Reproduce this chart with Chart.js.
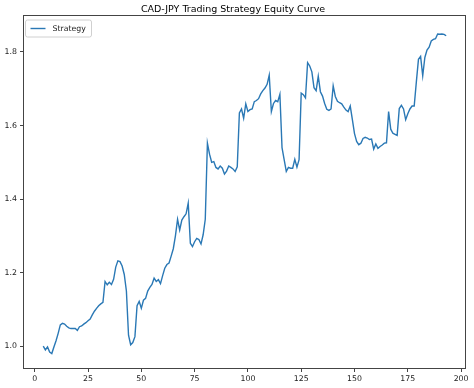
<!DOCTYPE html>
<html><head><meta charset="utf-8">
<script src="https://cdn.jsdelivr.net/npm/chart.js@4"></script>
<style>html,body{margin:0;padding:0;background:#fff;}canvas{display:block;}</style>
</head><body>
<canvas id="c" width="474" height="388"></canvas>
<script>
const titleText = "CAD-JPY Trading Strategy Equity Curve";
const seriesName = "Strategy";
const firstStep = 4;
const equity = [
  1.000, 0.990, 0.998, 0.984, 0.980, 0.998, 1.015, 1.035, 1.058, 1.062,
  1.060, 1.054, 1.050, 1.048, 1.048, 1.048, 1.043, 1.053, 1.055, 1.060,
  1.064, 1.069, 1.074, 1.085, 1.095, 1.103, 1.110, 1.115, 1.119, 1.176,
  1.167, 1.174, 1.168, 1.182, 1.215, 1.232, 1.230, 1.218, 1.195, 1.150,
  1.030, 1.004, 1.010, 1.026, 1.110, 1.122, 1.103, 1.125, 1.130, 1.150,
  1.160, 1.168, 1.185, 1.176, 1.181, 1.170, 1.192, 1.212, 1.222, 1.226,
  1.245, 1.265, 1.300, 1.345, 1.316, 1.343, 1.352, 1.360, 1.389, 1.280,
  1.271, 1.284, 1.293, 1.290, 1.278, 1.303, 1.345, 1.552, 1.522, 1.500,
  1.502, 1.486, 1.482, 1.490, 1.484, 1.468, 1.476, 1.490, 1.486, 1.482,
  1.475, 1.488, 1.634, 1.645, 1.620, 1.659, 1.638, 1.643, 1.645, 1.665,
  1.668, 1.673, 1.686, 1.695, 1.702, 1.712, 1.737, 1.638, 1.660, 1.668,
  1.665, 1.685, 1.540, 1.507, 1.475, 1.486, 1.484, 1.484, 1.508, 1.487,
  1.507, 1.688, 1.684, 1.675, 1.771, 1.762, 1.746, 1.703, 1.695, 1.734,
  1.692, 1.680, 1.660, 1.644, 1.641, 1.645, 1.708, 1.679, 1.666, 1.662,
  1.659, 1.650, 1.642, 1.638, 1.653, 1.616, 1.578, 1.557, 1.548, 1.552,
  1.565, 1.568, 1.566, 1.562, 1.563, 1.536, 1.550, 1.538, 1.543, 1.547,
  1.552, 1.553, 1.638, 1.590, 1.579, 1.576, 1.573, 1.646, 1.655, 1.645,
  1.616, 1.632, 1.645, 1.653, 1.653, 1.718, 1.780, 1.788, 1.735, 1.785,
  1.805, 1.813, 1.830, 1.834, 1.836, 1.849, 1.848, 1.849, 1.848, 1.844
];
const xTicks = [0, 25, 50, 75, 100, 125, 150, 175, 200];
const yTicks = [1.0, 1.2, 1.4, 1.6, 1.8];
const xLimits = [-5.5, 202.3];
const yLimits = [0.938, 1.9005];

const steps = equity.map((_, i) => firstStep + i);
const points = steps.map((s, i) => ({ x: s, y: equity[i] }));

const FONT = "'DejaVu Sans', sans-serif";
const LINE = '#2a78b5';
const AXIS = '#444';

const framePlugin = {
  id: 'frame',
  beforeDraw(chart) {
    const c = chart.ctx;
    c.save(); c.fillStyle = '#fff'; c.fillRect(0, 0, chart.width, chart.height); c.restore();
  },
  afterDraw(chart) {
    const { ctx, chartArea: a } = chart;
    ctx.save();
    ctx.strokeStyle = AXIS; ctx.lineWidth = 1;
    const l = Math.round(a.left) + 0.5, t = Math.round(a.top) + 0.5;
    const r = Math.round(a.right) - 0.5, b = Math.round(a.bottom) - 0.5;
    ctx.strokeRect(l, t, r - l, b - t);
    // legend
    const lx = a.left + 2.5, ly = a.top + 5, lw = 66, lh = 17;
    ctx.fillStyle = 'rgba(255,255,255,0.8)';
    ctx.strokeStyle = '#d0d0d0';
    ctx.beginPath();
    if (ctx.roundRect) ctx.roundRect(lx, ly, lw, lh, 2); else ctx.rect(lx, ly, lw, lh);
    ctx.fill(); ctx.stroke();
    ctx.strokeStyle = LINE; ctx.lineWidth = 1.4;
    ctx.beginPath(); ctx.moveTo(lx + 5, ly + lh / 2); ctx.lineTo(lx + 20, ly + lh / 2); ctx.stroke();
    ctx.fillStyle = '#222'; ctx.font = '7.8px ' + FONT; ctx.textBaseline = 'middle'; ctx.textAlign = 'left';
    ctx.fillText(chart.data.datasets[0].label, lx + 27, ly + lh / 2 + 0.5);
    ctx.restore();
  }
};

new Chart(document.getElementById('c'), {
  type: 'line',
  data: {
    datasets: [{
      label: seriesName,
      data: points,
      borderColor: LINE,
      borderWidth: 1.4,
      pointRadius: 0,
      tension: 0,
      fill: false
    }]
  },
  options: {
    responsive: false,
    animation: false,
    devicePixelRatio: 1,
    layout: { padding: { left: 0, right: 8, top: 0, bottom: 0 } },
    plugins: {
      legend: { display: false },
      tooltip: { enabled: false },
      title: {
        display: true, text: titleText, color: '#000',
        font: { family: FONT, size: 9.5, weight: 'normal' },
        padding: { top: 3.6, bottom: 0 }
      }
    },
    scales: {
      x: {
        type: 'linear', min: xLimits[0], max: xLimits[1],
        afterBuildTicks: s => { s.ticks = xTicks.map(v => ({ value: v })); },
        afterFit: s => { s.height = 19; },
        grid: { display: true, drawOnChartArea: false, drawTicks: true, tickLength: 3, tickColor: AXIS },
        border: { display: false },
        ticks: { color: '#222', padding: 2, maxRotation: 0, font: { family: FONT, size: 7.8 },
                 callback: v => String(v) }
      },
      y: {
        type: 'linear', min: yLimits[0], max: yLimits[1],
        afterBuildTicks: s => { s.ticks = yTicks.map(v => ({ value: v })); },
        afterFit: s => { s.width = 23; },
        grid: { display: true, drawOnChartArea: false, drawTicks: true, tickLength: 3, tickColor: AXIS },
        border: { display: false },
        ticks: { color: '#222', padding: 3, font: { family: FONT, size: 7.8 },
                 callback: v => Number(v).toFixed(1) }
      }
    }
  },
  plugins: [framePlugin]
});
</script>
</body></html>
